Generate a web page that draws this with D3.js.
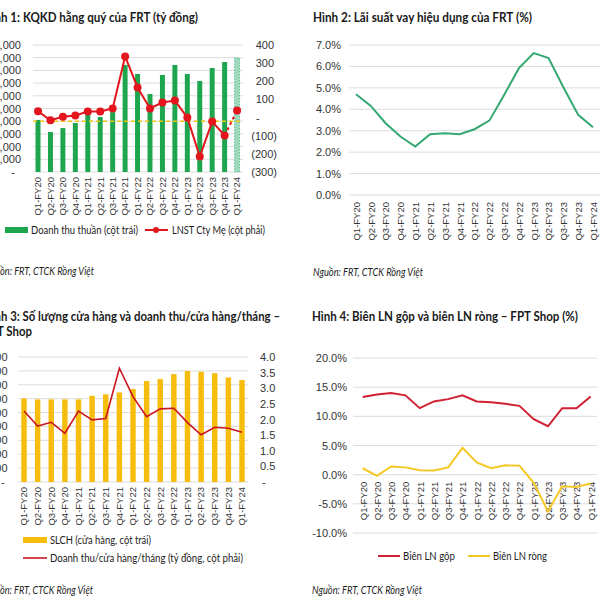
<!DOCTYPE html>
<html>
<head>
<meta charset="utf-8">
<script src="https://cdn.jsdelivr.net/npm/d3@7"></script>
<style>
  body { margin: 0; background: #fff; }
  svg { font-family: Lato, "Open Sans", sans-serif; }
  .title { font-weight: bold; font-size: 12.8px; fill: #1a1a1a; }
  .tick text { font-size: 11px; fill: #333; }
  .xlab .tick text { font-size: 9.5px; }
  .legend { font-size: 11px; fill: #222; }
  .src { font-style: italic; font-size: 10.8px; fill: #222; }
  .grid { stroke: #dcdcdc; stroke-width: 1; }
</style>
</head>
<body>
<div id="chart"></div>
<script>
// Data
const quarters = ["Q1-FY20","Q2-FY20","Q3-FY20","Q4-FY20","Q1-FY21","Q2-FY21","Q3-FY21","Q4-FY21",
  "Q1-FY22","Q2-FY22","Q3-FY22","Q4-FY22","Q1-FY23","Q2-FY23","Q3-FY23","Q4-FY23","Q1-FY24"];
const revenue = [4100,3150,3460,3860,4640,4330,4720,8430,7720,6140,7640,8430,7720,7170,8190,8660,8980];
const npat = [35,-15,5,11,33,33,50,337,166,50,83,94,0,-215,-22,-99,39];
const interestRate = [4.70,4.16,3.35,2.73,2.26,2.84,2.88,2.84,3.07,3.47,4.67,5.92,6.62,6.39,5.03,3.74,3.16];
const storeCount = [602,595,595,595,595,621,631,645,669,727,741,777,799,794,784,753,734];
const revPerStore = [2.27,1.79,1.91,1.56,2.27,1.99,2.03,3.64,2.73,2.09,2.34,2.36,1.90,1.51,1.75,1.72,1.59];
const grossMargin = [13.3,13.75,14.0,13.6,11.4,12.55,12.95,13.6,12.55,12.4,12.15,11.8,9.5,8.3,11.4,11.4,13.4];
const netMargin = [1.1,-0.2,1.4,1.25,0.75,0.7,1.25,4.6,2.1,1.1,1.6,1.55,-1.4,-6.3,-2.0,-2.1,-1.5];

const revTicks = d3.range(0, 10001, 1000);
const npatTicks = d3.range(-300, 401, 100);
const rateTicks = d3.range(0, 7.01, 1);
const storeTicks = d3.range(0, 901, 100);
const rpsTicks = d3.range(0, 4.01, 0.5);
const marginTicks = d3.range(-10, 20.01, 5);

const svg = d3.select("#chart").append("svg")
  .attr("width", 600).attr("height", 600);

// text squeezed horizontally so it ends at endX (mimics a condensed face)
function fitText(x, y, str, cls, endX) {
  const t = svg.append("text").attr("class", cls).attr("x", x).attr("y", y).text(str);
  const len = t.node().getComputedTextLength();
  if (len > endX - x) {
    t.attr("textLength", endX - x).attr("lengthAdjust", "spacingAndGlyphs");
  }
  return t;
}

// text whose first n chars fall off the left edge; visible part runs visX..endX
function cutText(str, n, visX, y, cls, endX, scale) {
  const t = svg.append("text").attr("class", cls).attr("y", y).text(str);
  const len = t.node().getComputedTextLength();
  const w = t.node().getSubStringLength(0, n);
  const s = scale || Math.min(1, (endX - visX) / (len - w));
  t.attr("textLength", len * s).attr("lengthAdjust", "spacingAndGlyphs")
    .attr("x", visX - w * s);
  return s;
}

function grid(x0, x1, y, ticks) {
  svg.append("g").selectAll("line").data(ticks).join("line")
    .attr("class", "grid")
    .attr("x1", x0).attr("x2", x1)
    .attr("y1", d => y(d)).attr("y2", d => y(d));
}

function xLabels(x, yPos, off) {
  const g = svg.append("g").attr("class", "xlab")
    .attr("transform", `translate(0,${yPos})`)
    .call(d3.axisBottom(x).tickSize(0));
  g.select(".domain").remove();
  g.selectAll(".tick text")
    .attr("transform", "rotate(-90)")
    .attr("text-anchor", "end")
    .attr("x", -off).attr("y", 0).attr("dy", "0.35em");
}

function yLabels(axis, xPos) {
  const g = svg.append("g").attr("transform", `translate(${xPos},0)`)
    .call(axis.tickSize(0).tickPadding(0));
  g.select(".domain").remove();
  return g;
}

// ---------- Hình 1 ----------
const x1 = d3.scaleBand().domain(quarters).range([31.8, 243.3]).paddingInner(0.6).paddingOuter(0.3);
const y1L = d3.scaleLinear().domain([0, 10000]).range([172, 45]);
const y1R = d3.scaleLinear().domain([-300, 400]).range([172, 45]);

cutText("Hình 1: KQKD hằng quý của FRT (tỷ đồng)", 3, 1, 22, "title", 198);
grid(33, 243, y1L, revTicks);

svg.append("g").selectAll("rect").data(revenue).join("rect")
  .attr("x", (d, i) => x1(quarters[i]))
  .attr("y", d => y1L(d))
  .attr("width", x1.bandwidth())
  .attr("height", d => y1L(0) - y1L(d))
  .attr("fill", (d, i) => i === revenue.length - 1 ? "#9fd9bd" : "#1ea64f")
  .attr("stroke", (d, i) => i === revenue.length - 1 ? "#5cbf92" : "none")
  .attr("stroke-dasharray", "1.5,1.5");

svg.append("line")
  .attr("x1", 33).attr("x2", 243)
  .attr("y1", y1L(4000)).attr("y2", y1L(4000))
  .attr("stroke", "#f2c413").attr("stroke-width", 1.5).attr("stroke-dasharray", "4,3");

const line1 = d3.line().x((d, i) => x1(quarters[i]) + x1.bandwidth() / 2).y(d => y1R(d));
svg.append("path").datum(npat.slice(0, 16))
  .attr("d", line1).attr("fill", "none").attr("stroke", "#e3151d").attr("stroke-width", 2);
svg.append("path")
  .attr("d", d3.line().x(d => x1(d[0]) + x1.bandwidth() / 2).y(d => y1R(d[1]))(
    [[quarters[15], npat[15]], [quarters[16], npat[16]]]))
  .attr("fill", "none").attr("stroke", "#e3151d").attr("stroke-width", 2).attr("stroke-dasharray", "3,3");
svg.append("g").selectAll("circle").data(npat).join("circle")
  .attr("cx", (d, i) => x1(quarters[i]) + x1.bandwidth() / 2)
  .attr("cy", d => y1R(d)).attr("r", 4).attr("fill", "#e3151d");

const ax1L = yLabels(d3.axisLeft(y1L).tickValues(revTicks)
  .tickFormat(d => d === 0 ? "-" : d3.format(",")(d)), 21);
ax1L.selectAll(".tick text").filter(d => d === 0).attr("text-anchor", "middle").attr("x", -8);

const ax1R = yLabels(d3.axisRight(y1R).tickValues(npatTicks)
  .tickFormat(d => d === 0 ? "-" : d < 0 ? `(${-d})` : d), 0);
ax1R.selectAll(".tick text")
  .attr("text-anchor", d => d === 0 ? "start" : "end")
  .attr("x", d => d === 0 ? 256 : d < 0 ? 277 : 274);

xLabels(x1, 172, 5);

// legend 1
svg.append("rect").attr("x", 5).attr("y", 227).attr("width", 23).attr("height", 6).attr("fill", "#1ea64f");
fitText(31, 234, "Doanh thu thuần (cột trái)", "legend", 138);
svg.append("line").attr("x1", 145).attr("x2", 168).attr("y1", 230).attr("y2", 230)
  .attr("stroke", "#e3151d").attr("stroke-width", 2);
svg.append("circle").attr("cx", 156).attr("cy", 230).attr("r", 3).attr("fill", "#e3151d");
fitText(172, 234, "LNST Cty Mẹ (cột phải)", "legend", 265);

cutText("Nguồn: FRT, CTCK Rồng Việt", 3, 0, 275, "src", 94);

// ---------- Hình 2 ----------
const x2 = d3.scalePoint().domain(quarters).range([356, 593]);
const y2 = d3.scaleLinear().domain([0, 7]).range([195, 45]);

fitText(313, 22, "Hình 2: Lãi suất vay hiệu dụng của FRT (%)", "title", 532);
grid(349, 600, y2, rateTicks);
svg.append("path").datum(interestRate)
  .attr("d", d3.line().x((d, i) => x2(quarters[i])).y(d => y2(d)))
  .attr("fill", "none").attr("stroke", "#35a872").attr("stroke-width", 2);
yLabels(d3.axisLeft(y2).tickValues(rateTicks).tickFormat(d => d.toFixed(1) + "%"), 341);
xLabels(x2, 195, 7);
fitText(313, 276, "Nguồn: FRT, CTCK Rồng Việt", "src", 423);

// ---------- Hình 3 ----------
const x3 = d3.scaleBand().domain(quarters).range([17.2, 248.8]).paddingInner(0.6).paddingOuter(0.3);
const y3L = d3.scaleLinear().domain([0, 900]).range([482, 357]);
const y3R = d3.scaleLinear().domain([0, 4]).range([482, 357]);

const t3scale = cutText("Hình 3: Số lượng cửa hàng và doanh thu/cửa hàng/tháng –", 3, 1, 321, "title", 280);
cutText("FPT Shop", 2, -3, 336, "title", 0, t3scale);
grid(18, 248, y3L, storeTicks);

svg.append("g").selectAll("rect").data(storeCount).join("rect")
  .attr("x", (d, i) => x3(quarters[i]))
  .attr("y", d => y3L(d))
  .attr("width", x3.bandwidth())
  .attr("height", d => y3L(0) - y3L(d))
  .attr("fill", "#f7bd0e");

svg.append("path").datum(revPerStore)
  .attr("d", d3.line().x((d, i) => x3(quarters[i]) + x3.bandwidth() / 2).y(d => y3R(d)))
  .attr("fill", "none").attr("stroke", "#c9151e").attr("stroke-width", 1.6);

yLabels(d3.axisLeft(y3L).tickValues(storeTicks).tickFormat(d => d === 0 ? "-" : d), 7.5)
  .selectAll(".tick text").filter(d => d === 0).attr("text-anchor", "start").attr("x", -6.5);
yLabels(d3.axisRight(y3R).tickValues(rpsTicks).tickFormat(d => d === 0 ? "-" : d.toFixed(1)), 260)
  .selectAll(".tick text").filter(d => d === 0).attr("x", 2);

xLabels(x3, 482, 5);

svg.append("rect").attr("x", 23).attr("y", 537).attr("width", 24).attr("height", 6).attr("fill", "#f7bd0e");
fitText(50, 544, "SLCH (cửa hàng, cột trái)", "legend", 151);
svg.append("line").attr("x1", 23).attr("x2", 47).attr("y1", 558).attr("y2", 558)
  .attr("stroke", "#c9151e").attr("stroke-width", 1.6);
fitText(50, 562, "Doanh thu/cửa hàng/tháng (tỷ đồng, cột phải)", "legend", 243);

cutText("Nguồn: FRT, CTCK Rồng Việt", 3, 0, 594, "src", 93);

// ---------- Hình 4 ----------
const x4 = d3.scalePoint().domain(quarters).range([362.7, 590.7]);
const y4 = d3.scaleLinear().domain([-10, 20]).range([533, 358]);

fitText(312, 321, "Hình 4: Biên LN gộp và biên LN ròng – FPT Shop (%)", "title", 578);
grid(353, 597, y4, marginTicks);
yLabels(d3.axisLeft(y4).tickValues(marginTicks).tickFormat(d => d.toFixed(1) + "%"), 347);
xLabels(x4, y4(0), 7);

const line4 = d3.line().x((d, i) => x4(quarters[i])).y(d => y4(d));
svg.append("path").datum(grossMargin).attr("d", line4)
  .attr("fill", "none").attr("stroke", "#cf2131").attr("stroke-width", 2);
svg.append("path").datum(netMargin).attr("d", line4)
  .attr("fill", "none").attr("stroke", "#f4c824").attr("stroke-width", 2);

svg.append("line").attr("x1", 378).attr("x2", 400).attr("y1", 556).attr("y2", 556)
  .attr("stroke", "#cf2131").attr("stroke-width", 2);
fitText(403, 560, "Biên LN gộp", "legend", 455);
svg.append("line").attr("x1", 468).attr("x2", 490).attr("y1", 556).attr("y2", 556)
  .attr("stroke", "#f4c824").attr("stroke-width", 2);
fitText(493, 560, "Biên LN ròng", "legend", 547);

fitText(312, 594, "Nguồn: FRT, CTCK Rồng Việt", "src", 422);
</script>
</body>
</html>
